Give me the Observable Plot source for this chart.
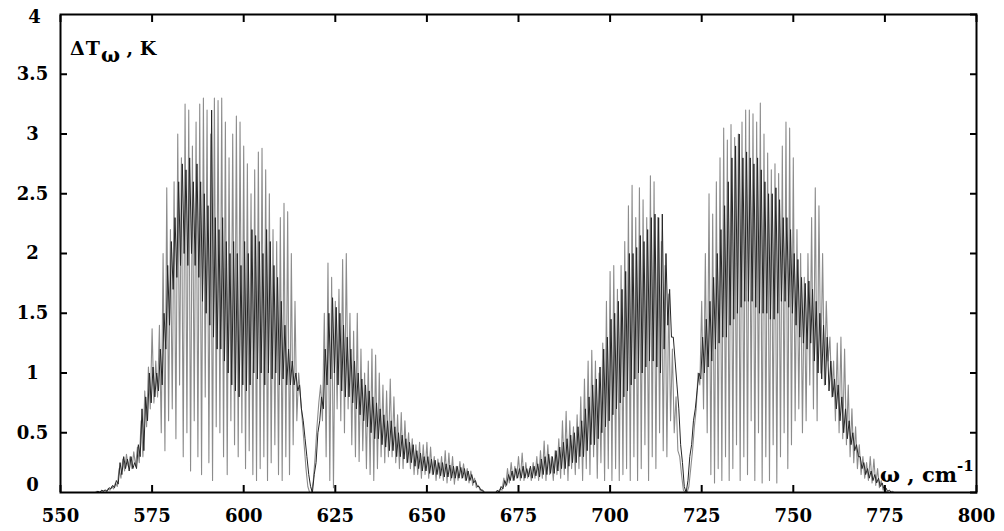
<!DOCTYPE html>
<html>
<head>
<meta charset="utf-8">
<script src="https://cdn.jsdelivr.net/npm/d3@7"></script>
<script src="https://cdn.jsdelivr.net/npm/@observablehq/plot@0.6"></script>
<style>
  html, body { margin: 0; padding: 0; background: #fff; }
</style>
</head>
<body>
<div id="chart"></div>
<script>
// Wavenumber (cm^-1) of the first sample; one peak/trough pair per cm^-1
const omegaStart = 556;

// Grey curve: peak values (at integer ω) and trough values (half a step later)
const grayPeaks = [
  /*556*/ 0,0,0,0,0.01,0.01,0.02,0.03,0.05,0.08,
  /*566*/ 0.2,0.28,0.32,0.3,0.34,0.38,0.6,0.85,1.05,1.37,
  /*576*/ 1.1,1.4,2.0,2.55,2.2,2.6,3.0,2.8,3.25,3.2,
  /*586*/ 2.9,3.1,3.25,3.3,3.2,3.0,3.3,3.28,3.3,3.1,
  /*596*/ 2.8,3.0,3.15,3.1,2.9,2.75,2.5,2.7,2.85,2.88,
  /*606*/ 2.7,2.5,2.2,2.1,2.3,2.42,2.35,2.0,1.6,1.0,
  /*616*/ 0.6,0.2,0,0.1,0.55,0.9,1.5,1.92,1.8,1.6,
  /*626*/ 1.7,1.95,2.0,1.5,1.35,1.5,1.2,1.0,1.1,1.2,
  /*636*/ 1.15,1.0,0.9,0.85,0.95,0.8,0.65,0.67,0.6,0.5,
  /*646*/ 0.45,0.4,0.42,0.4,0.42,0.38,0.3,0.28,0.3,0.35,
  /*656*/ 0.33,0.3,0.22,0.26,0.24,0.2,0.18,0.12,0.06,0.02,
  /*666*/ 0,0,0,0,0.03,0.12,0.2,0.25,0.22,0.3,
  /*676*/ 0.33,0.25,0.2,0.25,0.3,0.35,0.43,0.4,0.3,0.35,
  /*686*/ 0.45,0.6,0.68,0.6,0.55,0.65,0.8,0.95,1.1,1.19,
  /*696*/ 1.1,1.0,1.25,1.6,1.85,1.9,1.7,1.9,2.1,2.4,
  /*706*/ 2.57,2.3,2.55,2.45,2.3,2.65,2.6,2.3,2.1,1.9,
  /*716*/ 1.66,1.2,0.8,0.3,0.02,0,0.2,0.55,1.0,1.6,
  /*726*/ 2.0,2.5,2.33,2.6,2.8,3.05,2.95,3.08,2.97,3.0,
  /*736*/ 3.1,3.2,3.2,3.17,3.1,3.26,3.0,2.84,2.7,2.75,
  /*746*/ 2.67,2.9,3.1,3.05,2.8,2.2,2.0,1.8,2.0,2.3,
  /*756*/ 2.55,2.4,2.0,1.6,1.3,1.1,1.25,1.3,1.2,0.9,
  /*766*/ 0.7,0.55,0.4,0.3,0.25,0.3,0.28,0.2,0.1,0.03,
  /*776*/ 0,0.01,0
];
const grayTroughs = [
  /*556*/ 0,0,0,0,0,0.01,0.01,0.02,0.03,0.05,
  /*566*/ 0.12,0.18,0.22,0.2,0.22,0.25,0.3,0.55,0.7,0.75,
  /*576*/ 0.8,0.5,0.35,0.6,0.7,0.45,0.9,0.3,0.5,0.18,
  /*586*/ 0.6,0.3,0.15,0.8,0.25,0.1,0.55,0.5,0.3,0.15,
  /*596*/ 0.6,0.4,0.3,0.5,0.2,0.35,0.15,0.1,0.2,0.3,
  /*606*/ 0.1,0.25,0.4,0.15,0.1,0.3,0.15,0.4,0.6,0.8,
  /*616*/ 0.4,0.05,0,0.3,0.75,0.6,0.3,0.1,0.04,0.7,
  /*626*/ 0.6,0.5,0.7,0.4,0.3,0.26,0.35,0.2,0.15,0.1,
  /*636*/ 0.2,0.3,0.25,0.3,0.3,0.25,0.2,0.2,0.25,0.2,
  /*646*/ 0.15,0.15,0.12,0.15,0.12,0.15,0.1,0.12,0.1,0.08,
  /*656*/ 0.1,0.07,0.1,0.12,0.1,0.08,0.06,0.04,0.02,0,
  /*666*/ 0,0,0,0.01,0.02,0.05,0.08,0.1,0.12,0.1,
  /*676*/ 0.1,0.12,0.1,0.12,0.1,0.12,0.1,0.15,0.1,0.15,
  /*686*/ 0.12,0.15,0.1,0.2,0.15,0.2,0.1,0.2,0.15,0.3,
  /*696*/ 0.12,0.25,0.1,0.2,0.1,0.2,0.1,0.15,0.2,0.1,
  /*706*/ 0.3,0.1,0.2,0.4,0.1,0.3,0.2,0.5,0.35,0.3,
  /*716*/ 0.6,0.5,0.35,0.15,0,0.05,0.35,0.7,0.9,0.7,
  /*726*/ 0.5,0.15,0.08,0.2,0.1,0.3,0.1,0.2,0.4,0.1,
  /*736*/ 0.3,0.15,0.6,0.1,0.5,0.08,0.3,0.1,0.4,0.08,
  /*746*/ 0.3,0.5,0.2,0.4,0.6,0.7,0.5,0.6,0.9,0.7,
  /*756*/ 0.6,1.0,0.9,1.1,0.8,0.6,0.5,0.45,0.4,0.3,
  /*766*/ 0.25,0.2,0.15,0.12,0.1,0.08,0.06,0.04,0.02,0,
  /*776*/ 0,0,0
];

// Black curve: peak values (ω + 0.25) and trough values (ω + 0.75)
const blackPeaks = [
  /*556*/ 0,0,0,0,0.01,0.02,0.02,0.04,0.06,0.1,
  /*566*/ 0.25,0.3,0.28,0.3,0.25,0.4,0.7,0.8,1.0,1.05,
  /*576*/ 1.0,1.2,1.5,1.9,2.1,2.3,2.6,2.75,2.7,2.8,
  /*586*/ 2.6,2.75,2.6,2.5,2.4,3.2,2.3,2.2,2.3,2.1,
  /*596*/ 2.0,2.1,2.0,1.9,2.1,2.0,2.2,2.15,2.1,2.0,
  /*606*/ 2.2,2.1,1.9,1.8,1.6,1.4,1.2,1.1,1.0,0.9,
  /*616*/ 0.6,0.3,0.05,0.15,0.5,0.8,1.2,1.5,1.63,1.55,
  /*626*/ 1.5,1.4,1.3,1.2,1.1,1.0,0.95,0.9,0.85,0.8,
  /*636*/ 0.75,0.7,0.65,0.6,0.6,0.55,0.5,0.48,0.45,0.42,
  /*646*/ 0.4,0.35,0.33,0.3,0.3,0.28,0.27,0.25,0.25,0.24,
  /*656*/ 0.23,0.22,0.22,0.21,0.2,0.18,0.15,0.1,0.05,0.02,
  /*666*/ 0,0,0,0.02,0.05,0.1,0.15,0.18,0.2,0.2,
  /*676*/ 0.22,0.2,0.22,0.22,0.24,0.28,0.3,0.32,0.3,0.35,
  /*686*/ 0.38,0.42,0.45,0.48,0.5,0.55,0.6,0.7,0.8,0.9,
  /*696*/ 0.95,1.05,1.2,1.3,1.45,1.5,1.6,1.7,1.85,2.0,
  /*706*/ 2.0,2.05,2.15,2.1,2.2,2.3,2.33,2.3,2.33,2.0,
  /*716*/ 1.7,1.3,0.9,0.4,0.05,0.1,0.4,0.7,1.0,1.3,
  /*726*/ 1.45,1.6,1.8,2.0,2.2,2.4,2.6,2.8,2.9,3.0,
  /*736*/ 2.8,2.85,2.8,2.75,2.8,2.7,2.6,2.5,2.5,2.55,
  /*746*/ 2.45,2.3,2.3,2.2,2.0,1.95,1.8,1.75,1.77,1.7,
  /*756*/ 1.6,1.5,1.4,1.3,1.1,0.95,0.9,0.8,0.7,0.6,
  /*766*/ 0.5,0.4,0.3,0.25,0.2,0.18,0.15,0.12,0.08,0.04,
  /*776*/ 0.02,0,0
];
const blackTroughs = [
  /*556*/ 0,0,0,0,0,0.01,0.01,0.03,0.04,0.07,
  /*566*/ 0.15,0.2,0.18,0.2,0.2,0.3,0.35,0.6,0.75,0.8,
  /*576*/ 0.85,0.9,1.2,1.4,1.7,1.8,1.9,2.0,1.9,2.0,
  /*586*/ 1.9,1.8,1.6,1.5,1.4,1.3,1.2,1.2,1.1,1.0,
  /*596*/ 0.9,0.85,0.8,0.9,0.85,0.9,1.0,0.95,1.0,0.9,
  /*606*/ 1.0,0.95,1.0,0.9,0.95,0.9,0.9,0.9,0.85,0.7,
  /*616*/ 0.45,0.15,0,0.25,0.6,0.7,0.9,0.95,1.0,0.9,
  /*626*/ 0.85,0.8,0.8,0.75,0.7,0.65,0.6,0.55,0.5,0.45,
  /*636*/ 0.45,0.4,0.38,0.35,0.35,0.3,0.3,0.28,0.25,0.25,
  /*646*/ 0.22,0.2,0.18,0.18,0.16,0.15,0.15,0.14,0.13,0.13,
  /*656*/ 0.12,0.12,0.12,0.12,0.1,0.1,0.08,0.05,0.02,0,
  /*666*/ 0,0,0,0,0.03,0.06,0.1,0.1,0.12,0.12,
  /*676*/ 0.12,0.13,0.12,0.14,0.13,0.15,0.15,0.16,0.16,0.18,
  /*686*/ 0.2,0.2,0.22,0.25,0.25,0.3,0.3,0.35,0.4,0.4,
  /*696*/ 0.45,0.5,0.55,0.6,0.65,0.7,0.75,0.8,0.85,0.9,
  /*706*/ 0.95,1.0,1.0,1.05,1.1,1.1,1.05,1.0,1.2,1.4,
  /*716*/ 1.3,1.1,0.7,0.25,0,0.3,0.6,0.85,0.95,1.0,
  /*726*/ 1.05,1.1,1.2,1.25,1.3,1.3,1.4,1.45,1.5,1.55,
  /*736*/ 1.6,1.6,1.6,1.55,1.5,1.5,1.5,1.45,1.45,1.5,
  /*746*/ 1.6,1.6,1.55,1.5,1.4,1.3,1.25,1.2,1.25,1.1,
  /*756*/ 1.0,0.95,0.9,0.85,0.8,0.7,0.6,0.5,0.45,0.4,
  /*766*/ 0.35,0.3,0.2,0.15,0.12,0.1,0.08,0.05,0.03,0.01,
  /*776*/ 0,0,0
];

const xTicks = [550, 575, 600, 625, 650, 675, 700, 725, 750, 775, 800];
const yTicks = [0, 0.5, 1, 1.5, 2, 2.5, 3, 3.5, 4];
const yTickLabels = ["0", "0.5", "1", "1.5", "2", "2.5", "3", "3.5", "4"];
const yLabel = (d) => yTickLabels[yTicks.indexOf(d)];

function toPoints(peaks, troughs, offset) {
  const pts = [];
  peaks.forEach((p, i) => {
    pts.push({w: omegaStart + i + offset, t: p});
    pts.push({w: omegaStart + i + offset + 0.5, t: troughs[i]});
  });
  return pts;
}
const grayData = toPoints(grayPeaks, grayTroughs, 0);
const blackData = toPoints(blackPeaks, blackTroughs, 0.25);

const innerY = yTicks.slice(1, -1);

const chart = Plot.plot({
  width: 1004,
  height: 531,
  marginLeft: 60,
  marginRight: 28,
  marginTop: 14,
  marginBottom: 39,
  x: {domain: [550, 800]},
  y: {domain: [0, 4]},
  style: {background: "#fff", fontFamily: "DejaVu Serif", fontWeight: "bold", fontSize: "18px", color: "#000"},
  marks: [
    Plot.line(grayData, {x: "w", y: "t", stroke: "#8c8c8c", strokeWidth: 1.1}),
    Plot.line(blackData, {x: "w", y: "t", stroke: "#262626", strokeWidth: 1}),
    Plot.frame({stroke: "#000", strokeWidth: 2}),
    Plot.axisX({anchor: "bottom", ticks: xTicks, tickSize: -7, tickPadding: 24, strokeWidth: 2, label: null}),
    Plot.axisX({anchor: "top", ticks: xTicks, tickSize: -7, tickFormat: () => "", strokeWidth: 2, label: null}),
    Plot.axisY({anchor: "left", ticks: innerY, tickFormat: yLabel, tickSize: -7, tickPadding: 35, textAnchor: "middle", strokeWidth: 2, label: null}),
    Plot.axisY({anchor: "left", ticks: [yTicks[0]], tickFormat: yLabel, tickSize: 0, tickPadding: 28, textAnchor: "middle", dy: -7, label: null}),
    Plot.axisY({anchor: "left", ticks: [yTicks[yTicks.length - 1]], tickFormat: yLabel, tickSize: 0, tickPadding: 26, textAnchor: "middle", dy: 3, label: null}),
    Plot.axisY({anchor: "right", ticks: yTicks, tickSize: -7, tickFormat: () => "", strokeWidth: 2, label: null})
  ]
});
document.getElementById("chart").appendChild(chart);

// Axis titles with sub/superscripts
const svg = d3.select(chart);
const yt = svg.append("text")
  .attr("x", 70).attr("y", 55)
  .attr("text-anchor", "start")
  .attr("font-family", "DejaVu Serif").attr("font-weight", "bold")
  .attr("font-size", 19).attr("fill", "#000");
yt.append("tspan").attr("letter-spacing", 1).text("ΔT");
yt.append("tspan").attr("dy", 7).attr("font-size", 20).text("ω");
yt.append("tspan").attr("dy", -7).text(" , K");

const xt = svg.append("text")
  .attr("x", 880).attr("y", 482)
  .attr("text-anchor", "start")
  .attr("font-family", "DejaVu Serif").attr("font-weight", "bold")
  .attr("font-size", 21).attr("fill", "#000");
xt.append("tspan").text("ω , cm");
xt.append("tspan").attr("dy", -11).attr("font-size", 15).text("-1");
</script>
</body>
</html>
